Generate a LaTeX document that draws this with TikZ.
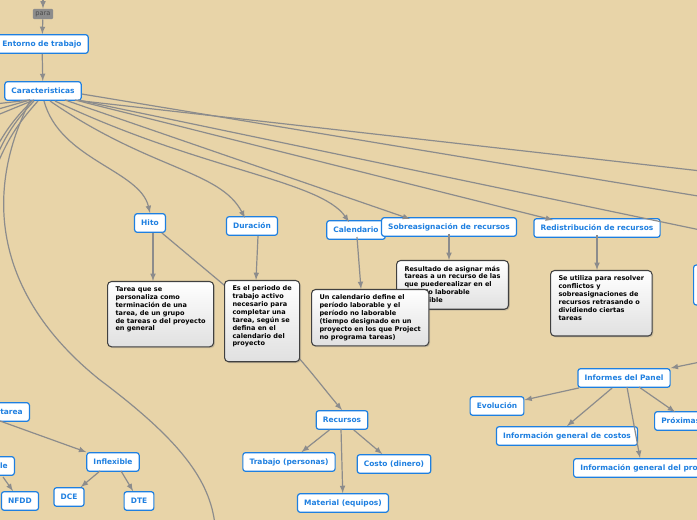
\documentclass[tikz,border=0pt]{standalone}
\usepackage{fontspec}
\setmainfont{DejaVu Sans}
\usetikzlibrary{shadows}
\definecolor{bg}{HTML}{E8D4A8}
\definecolor{blu}{HTML}{1E7FE0}
\definecolor{edge}{HTML}{8C8C8C}
\begin{document}
\begin{tikzpicture}[x=0.75pt,y=-0.75pt,
  topic/.style={draw=blu,line width=0.9pt,fill=white,rounded corners=2pt,text=blu,font=\fontsize{5.6}{6.5}\selectfont\bfseries,inner xsep=5pt,minimum height=14pt},
  note/.style={draw=black!75,line width=0.8pt,rounded corners=3pt,top color=white,bottom color=black!12,drop shadow={opacity=0.3,shadow xshift=1pt,shadow yshift=-1pt},font=\fontsize{4.9}{5.9}\selectfont\bfseries,align=left,anchor=north west,inner xsep=6pt,inner ysep=4pt},
  lab/.style={fill=black!45,rounded corners=1.5pt,text=black!70,font=\fontsize{5}{6}\selectfont,inner sep=2pt},
  con/.style={draw=edge,line width=0.9pt},
  arr/.style={con,-latex}]
\useasboundingbox[fill=bg] (0,0) rectangle (697,520);
% nodes
\node[lab] (para) at (43,14) {para};
\node[topic] (ent) at (42,44) {Entorno de trabajo};
\node[topic] (car) at (43,91) {Caracteristicas};
\node[topic] (hito) at (150,223) {Hito};
\node[topic] (dur) at (252,226) {Duración};
\node[topic] (cal) at (356,230) {Calendario};
\node[topic] (sob) at (449,227) {Sobreasignación de recursos};
\node[topic] (red) at (597,228) {Redistribución de recursos};
\node[topic,minimum width=30pt,minimum height=30pt,anchor=west] (rgt) at (693,285) {};
\coordinate (c0) at (43,-5);
\draw[arr] (c0) -- (para);
\draw[arr] (para) -- (ent);
\draw[arr] (ent) -- (car);
\coordinate (r1) at (710,172);
\coordinate (r2) at (710,198);
\coordinate (r3) at (710,232);
\coordinate (l1) at (-5,104);
\coordinate (l2) at (-5,110);
\coordinate (l3) at (-5,116);
\coordinate (l4) at (-5,160);
\coordinate (l5) at (-5,170);
\coordinate (l6) at (-5,150);
\coordinate (big) at (215,525);
\draw[con] (car.south east) -- (r1);
\draw[con] (car.east) ++(0,3) -- (r2);
\draw[con] (78,100) -- (r3);
\draw[con] (30,100) -- (l1);
\draw[con] (30,100) -- (l2);
\draw[con] (34,100) -- (l3);
\draw[con] (34,101) to[bend right=10] (l4);
\draw[con] (38,101) to[bend right=10] (l5);
\draw[con] (32,101) to[bend right=8] (l6);
\draw[con] (30,101) .. controls (-20,200) and (0,300) .. (100,380) .. controls (180,440) and (210,480) .. (big);
\draw[arr] (44,101) .. controls (60,160) and (140,170) .. (hito.north);
\draw[arr] (50,101) .. controls (150,170) and (220,170) .. (245,218);
\draw[arr] (55,101) .. controls (200,170) and (320,180) .. (349,222);
\draw[arr] (65,100) -- (410,219);
\draw[arr] (75,100) -- (553,220);
\node[topic] (rec) at (342,420) {Recursos};
\draw[arr] (hito) -- (230,290) -- (290,348) .. controls (310,370) and (325,390) .. (rec.north);
% notes
\node[note] (n1) at (107,281) {Tarea que se\\personaliza como\\terminación de una\\tarea, de un grupo\\de tareas o del proyecto\\en general\\[2pt]};
\node[note] (n2) at (224,280) {Es el periodo de\\trabajo activo\\necesario para\\completar una\\tarea, según se\\defina en el\\calendario del\\proyecto\\[2pt]};
\node[note] (n4) at (396,260) {Resultado de asignar más\\tareas a un recurso de las\\que puederealizar en el\\período laborable\\disponible};
\node[note] (n3) at (311,289) {Un calendario define el\\período laborable y el\\período no laborable\\ (tiempo designado en un\\proyecto en los que Project\\no programa tareas)};
\node[note,minimum width=73pt] (n5) at (550,270) {Se utiliza para resolver\\conflictos y\\sobreasignaciones de\\recursos retrasando o\\dividiendo ciertas\\tareas\\[2pt]};
\draw[arr] (153,233) -- (153,281);
\draw[arr] (258,236) -- (256,280);
\draw[arr] (357,237) -- (361,289);
\draw[arr] (449,234) -- (449,260);
\draw[arr] (597,235) -- (597,270);
\node[topic] (tra) at (289,462) {Trabajo (personas)};
\node[topic] (cos) at (394,464) {Costo (dinero)};
\node[topic] (mat) at (343,503) {Material (equipos)};
\draw[arr] (rec) -- (tra);
\draw[arr] (rec) -- (cos);
\draw[arr] (341,429) -- (mat);
\node[topic] (inf) at (624,378) {Informes del Panel};
\node[topic] (evo) at (497,406) {Evolución};
\node[topic] (igc) at (567,436) {Información general de costos};
\node[topic,anchor=west] (prox) at (654,421) {Próximas tareas};
\node[topic,anchor=west] (igp) at (573,468) {Información general del proyecto};
\coordinate (r4) at (710,360);
\draw[arr] (r4) -- (inf.north east);
\draw[arr] (inf) -- (evo);
\draw[arr] (inf) -- (igc.north);
\draw[arr] (627,387) -- (640,458);
\draw[arr] (639,387) -- (675,412);
\node[topic,anchor=east] (tar) at (30,412) {tarea};
\node[topic,anchor=east] (le) at (15,466) {le};
\node[topic] (infl) at (113,462) {Inflexible};
\node[topic] (nf) at (20,501) {NFDD};
\node[topic] (dce) at (69,497) {DCE};
\node[topic] (dte) at (139,501) {DTE};
\draw[arr] (0,421) -- (infl.north west);
\draw[arr] (3,477) -- (nf);
\draw[arr] (100,471) -- (dce);
\draw[arr] (121,471) -- (dte);
\end{tikzpicture}
\end{document}
